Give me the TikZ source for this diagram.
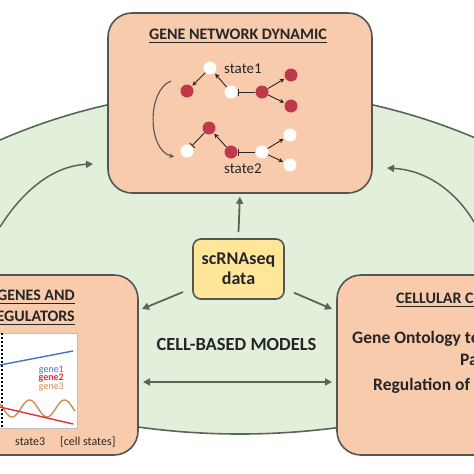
\documentclass[tikz,border=0pt]{standalone}
\usepackage{fontspec}
\setmainfont{Carlito}
\usetikzlibrary{arrows.meta}

\definecolor{bggreen}{HTML}{E2EFDA}
\definecolor{linegreen}{HTML}{56675A}
\definecolor{boxsalmon}{HTML}{F8CBAD}
\definecolor{boxyellow}{HTML}{FFE699}
\definecolor{boxline}{HTML}{555555}
\definecolor{textdark}{HTML}{262626}
\definecolor{nodered}{HTML}{C0394B}
\definecolor{geneblue}{HTML}{4472C4}
\definecolor{genered}{HTML}{E0303C}
\definecolor{geneorange}{HTML}{C98E55}

\tikzset{
  panel/.style={draw=boxline, line width=1.6pt, fill=boxsalmon, rounded corners=24pt},
  databox/.style={draw=boxline, line width=1.6pt, fill=boxyellow, rounded corners=8pt,
    minimum width=91pt, minimum height=60pt, align=center, text=textdark,
    font=\fontsize{18}{20}\selectfont\bfseries},
  flow/.style={draw=linegreen, line width=1.8pt, -{Triangle[length=7pt,width=7pt]}},
  sidearrow/.style={draw=linegreen, line width=1.5pt, -{Triangle[length=7pt,width=7pt]}},
  gon/.style={circle, minimum size=13pt, inner sep=0pt, fill=nodered},
  goff/.style={circle, minimum size=13pt, inner sep=0pt, fill=white},
  act/.style={draw=textdark, line width=0.9pt, -{Stealth[length=4.5pt,width=4.5pt]}, shorten >=1pt},
  inh/.style={draw=textdark, line width=0.9pt, -{Bar[width=7pt]}, shorten >=0.5pt},
  lbl/.style={inner sep=0pt, anchor=base, text=textdark},
  head/.style={lbl, font=\fontsize{16}{18}\selectfont\bfseries},
  big/.style={lbl, font=\fontsize{17.5}{20}\selectfont\bfseries},
  uline/.style={draw=textdark, line width=1pt},
}

\begin{document}
\begin{tikzpicture}[x=1pt, y=-1pt]
  \clip (0,0) rectangle (474,474);
  \fill[white] (0,0) rectangle (474,474);

  % green background area
  \path[fill=bggreen, draw=linegreen, line width=1.6pt]
    (240,692.7) ++(243.4:602.6) arc[start angle=243.4, end angle=296.6, radius=602.6]
    -- (510,383.5) arc[start angle=68.8, end angle=111.2, radius=746.6] -- cycle;

  % panels
  \node[panel, minimum width=264pt, minimum height=180pt] (netpanel) at (240,103) {};
  \node[panel, minimum width=178pt, minimum height=180pt] (genepanel) at (49,365) {};
  \node[panel, minimum width=178pt, minimum height=180pt] (cellpanel) at (426,365) {};
  \node[databox] (data) at (238.5,269) {scRNAseq\\data};

  % gene network dynamic
  \node[head] (nettitle) at (238,39.5) {GENE NETWORK DYNAMIC};
  \draw[uline] ([yshift=-3pt]nettitle.base west) -- ([yshift=-3pt]nettitle.base east);
  \node[lbl, anchor=base west, font=\fontsize{15}{17}\selectfont] (st1) at (224,73) {state1};
  \node[lbl, anchor=base west, font=\fontsize{15}{17}\selectfont] (st2) at (224,173) {state2};

  \node[goff] (s1a) at (210,68) {};
  \node[gon]  (s1b) at (187,91) {};
  \node[goff] (s1c) at (231,92) {};
  \node[gon]  (s1d) at (262,92) {};
  \node[gon]  (s1e) at (291,75) {};
  \node[gon]  (s1f) at (291,106) {};
  \node[gon]  (s2a) at (209,128) {};
  \node[goff] (s2b) at (187,151) {};
  \node[gon]  (s2c) at (231,152) {};
  \node[goff] (s2d) at (262,152) {};
  \node[goff] (s2e) at (290,135) {};
  \node[goff] (s2f) at (290,165) {};

  \draw[act] (s1a) -- (s1b);
  \draw[act] (s1c) -- (s1a);
  \draw[inh] (s1d) -- (s1c);
  \draw[act] (s1d) -- (s1e);
  \draw[act] (s1d) -- (s1f);
  \draw[inh] (s2a) -- (s2b);
  \draw[act] (s2c) -- (s2a);
  \draw[inh] (s2d) -- (s2c);
  \draw[act] (s2d) -- (s2e);
  \draw[act] (s2d) -- (s2f);

  \coordinate (loopstart) at (171,81);
  \coordinate (loopend) at (175,157);
  \draw[act, draw=boxline, line width=1.1pt] (loopstart) .. controls (147,90) and (147,150) .. (loopend);

  % genes and regulators
  \node[head, anchor=base east] (genetitle) at (75,300) {GENES AND};
  \draw[uline] ([yshift=-3pt]genetitle.base west) -- ([yshift=-3pt]genetitle.base east);
  \node[head, anchor=base east] (regtitle) at (75,321.5) {EGULATORS};
  \draw[uline] ([yshift=-3pt]regtitle.base west) -- ([yshift=-3pt]regtitle.base east);

  \draw[fill=white, draw=black!25, line width=0.8pt] (-5,333) rectangle (77,428);
  \draw[black, line width=2pt, dash pattern=on 2pt off 2pt] (1.5,333) -- (1.5,428);
  \draw[geneblue, line width=1.4pt] (0,365) -- (73,351);
  \draw[geneorange, line width=1.4pt, domain=0:75, samples=80, smooth]
    plot (\x, {408.5+8.5*cos((\x-12)*10.2857)});
  \draw[genered, line width=1.4pt] (0,407) -- (73,424);
  \node[lbl, anchor=base east, text=geneblue, font=\fontsize{10}{11}\selectfont] (g1) at (64,372) {gene1};
  \node[lbl, anchor=base east, text=genered, font=\fontsize{10}{11}\selectfont\bfseries] (g2) at (64,380.5) {gene2};
  \node[lbl, anchor=base east, text=geneorange, font=\fontsize{10}{11}\selectfont] (g3) at (64,389) {gene3};
  \node[lbl, anchor=base west, font=\fontsize{12}{14}\selectfont] (st3) at (15,445) {state3};
  \node[lbl, anchor=base west, font=\fontsize{12}{14}\selectfont] (cst) at (60,445) {[cell states]};

  % cellular context
  \node[head, anchor=base west] (celltitle) at (396,303) {CELLULAR C};
  \draw[uline] ([yshift=-3pt]celltitle.base west) -- ([yshift=-3pt]celltitle.base east);
  \node[big, anchor=base west] (go) at (352,343) {Gene Ontology te};
  \node[big, anchor=base west] (pa) at (460,365) {Pa};
  \node[big, anchor=base west] (reg) at (373,390) {Regulation of r};

  % models
  \node[lbl, font=\fontsize{18.5}{20}\selectfont\bfseries] (models) at (236.5,350) {CELL-BASED MODELS};

  % arrows
  \coordinate (toleft) at (142,309);
  \coordinate (toright) at (332,309);
  \coordinate (bl) at (139,382);
  \coordinate (br) at (336,382);
  \draw[flow, shorten >=3pt] ([yshift=6pt]data.north) -- (netpanel.south);
  \draw[flow, shorten <=10pt] (data) -- (toleft);
  \draw[flow, shorten <=10pt] (data) -- (toright);
  \draw[flow, {Triangle[length=7pt,width=7pt]}-{Triangle[length=7pt,width=7pt]}, shorten <=4pt, shorten >=4pt] (bl) -- (br);

  \coordinate (lfrom) at (0,227);
  \coordinate (lto) at (93,164);
  \coordinate (rfrom) at (474,222);
  \coordinate (rto) at (387,168);
  \draw[sidearrow] (lfrom) .. controls (20,195) and (50,166) .. (lto);
  \draw[sidearrow] (rfrom) .. controls (455,190) and (425,170) .. (rto);
\end{tikzpicture}
\end{document}
